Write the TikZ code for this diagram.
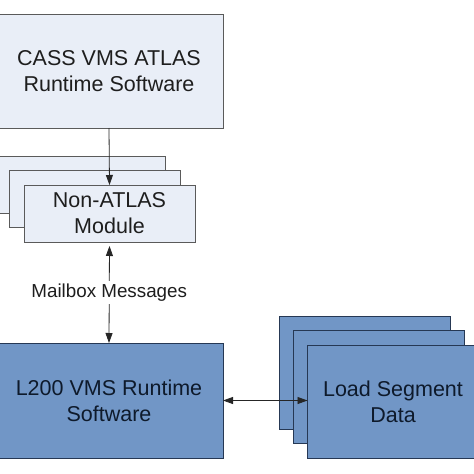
\documentclass[tikz,border=0pt]{standalone}
\usepackage{fontspec}
\setmainfont{Liberation Sans}
\usetikzlibrary{arrows.meta,positioning}
\definecolor{paleblue}{RGB}{233,238,247}
\definecolor{paleedge}{RGB}{90,90,90}
\definecolor{steelblue}{RGB}{113,150,198}
\definecolor{steeledge}{RGB}{38,56,84}
\definecolor{inktext}{RGB}{30,30,30}
\definecolor{navytext}{RGB}{14,26,43}
\tikzset{
  box/.style={draw, line width=1pt, inner sep=0pt, outer sep=0pt, align=center,
    font=\fontsize{21.5}{26}\selectfont},
  softbox/.style={box, fill=paleblue, draw=paleedge, text=inktext},  % software layer
  darkbox/.style={box, fill=steelblue, draw=steeledge, text=navytext}, % L200 side
  link/.style={line width=0.8pt, draw=black!85, {Triangle[length=10pt,width=7pt]}-{Triangle[length=10pt,width=7pt]}},
  feed/.style={line width=0.8pt, draw=black!85, -{Triangle[length=10pt,width=7pt]}}
}
\begin{document}
\begin{tikzpicture}[x=1pt,y=-1pt]
  \useasboundingbox (0,0) rectangle (474,474);
  \clip (0,0) rectangle (474,474);
  % top layer
  \node[softbox, minimum width=228pt, minimum height=114pt] (cass) at (109,71)
    {CASS VMS ATLAS\\Runtime Software};
  % stacked modules, back copies first
  \foreach \k in {2,1}{%
    \node[softbox, minimum width=171pt, minimum height=57pt] (modback\k)
      at ({109.5-15*\k},{213.5-14.5*\k}) {};
  }
  \node[softbox, minimum width=171pt, minimum height=57pt] (module) at (109.5,213.5)
    {Non-ATLAS\\Module};
  % L200 layer
  \node[darkbox, minimum width=228pt, minimum height=115pt] (l200) at (109,400.5)
    {L200 VMS Runtime\\Software};
  \foreach \k in {2,1}{%
    \node[darkbox, minimum width=171pt, minimum height=113pt] (segback\k)
      at ({393-14*\k},{401.5-14.3*\k}) {};
  }
  \node[darkbox, minimum width=171pt, minimum height=113pt] (segment) at (393,401.5)
    {Load Segment\\Data};
  % connectors
  \draw[feed] (cass.south) -- (module.north);
  \draw[link, shorten <=4pt] (module.south) -- (l200.north)
    node[midway, fill=white, inner sep=3pt, font=\fontsize{18.8}{22}\selectfont, text=inktext] (mail)
    {Mailbox Messages};
  \draw[link] (l200.east) -- (l200.east -| segment.west);
\end{tikzpicture}
\end{document}
